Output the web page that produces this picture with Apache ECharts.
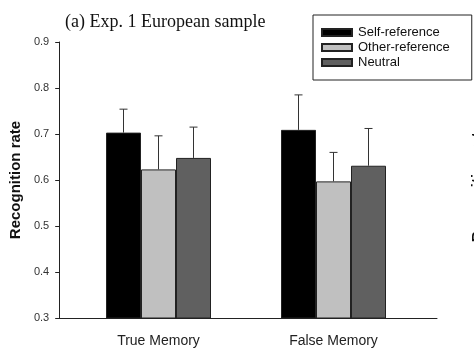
<!DOCTYPE html>
<html lang="en">
<head>
    <meta charset="UTF-8">
    <title>Exp. 1 European sample</title>
    <script src="https://cdn.jsdelivr.net/npm/echarts@6/dist/echarts.min.js"></script>
    <style>
        body{ margin: 0; background: #fff; }
    </style>
</head>
<body>
    <div id="main" style="width: 474px; height: 352px;"></div>

    <script>
        // data
        var categories = ['True Memory', 'False Memory'];
        var selfRef = [0.703, 0.709];
        var selfTop = [0.754, 0.785];
        var otherRef = [0.623, 0.597];
        var otherTop = [0.696, 0.660];
        var neutral = [0.648, 0.631];
        var neutralTop = [0.715, 0.712];
        var yTicks = [0.3, 0.4, 0.5, 0.6, 0.7, 0.8, 0.9];

        var chart = echarts.init(document.getElementById('main'));

        var barW = 35;

        // upper error bars, k = bar position inside the group
        function errSeries(name, vals, tops, k) {
            return {
                type: 'custom',
                name: name + ' err',
                xAxisIndex: 1,
                yAxisIndex: 1,
                z: 5,
                data: vals.map(function (v, i) { return [i, v, tops[i]]; }),
                renderItem: function (params, api) {
                    var p = api.coord([api.value(0), api.value(1)]);
                    var t = api.coord([api.value(0), api.value(2)]);
                    var x = p[0] + (k - 1) * barW;
                    return {
                        type: 'group',
                        children: [
                            { type: 'line', shape: { x1: x, y1: p[1], x2: x, y2: t[1] }, style: { stroke: '#333', lineWidth: 1 } },
                            { type: 'line', shape: { x1: x - 4, y1: t[1], x2: x + 4, y2: t[1] }, style: { stroke: '#333', lineWidth: 1 } }
                        ]
                    };
                }
            };
        }

        function bar(name, vals, color) {
            return {
                type: 'bar',
                name: name,
                xAxisIndex: 1,
                yAxisIndex: 1,
                barWidth: barW,
                barGap: 0,
                data: vals,
                itemStyle: { color: color, borderColor: '#222', borderWidth: 1 }
            };
        }

        var option = {
            animation: false,
            title: {
                text: '(a) Exp. 1 European sample',
                left: 60,
                top: 8,
                textStyle: { fontFamily: 'Liberation Serif', fontWeight: 'normal', fontSize: 18, color: '#111' }
            },
            legend: {
                data: ['Self-reference', 'Other-reference', 'Neutral'],
                orient: 'vertical',
                left: 313,
                top: 15,
                padding: [10, 22, 10, 8],
                itemGap: 0,
                itemWidth: 30,
                itemHeight: 7,
                icon: 'rect',
                borderColor: '#222',
                borderWidth: 1,
                textStyle: { fontFamily: 'Liberation Sans', fontSize: 13, color: '#111', lineHeight: 15, padding: [0, 0, 0, 1] }
            },
            graphic: [{
                type: 'text',
                x: 478,
                y: 183,
                rotation: Math.PI / 2,
                style: {
                    text: 'Recognition rate',
                    font: 'bold 15px "Liberation Sans"',
                    fill: '#111',
                    align: 'center',
                    verticalAlign: 'middle'
                }
            }],
            grid: [
                { left: 54, top: 42, right: 37, bottom: 34 },
                { left: 71, top: 42, right: 53, bottom: 34 }
            ],
            xAxis: [
                {
                    type: 'value', gridIndex: 0, min: 0, max: 1,
                    axisLine: { show: true, lineStyle: { color: '#222' } },
                    axisTick: { show: false }, axisLabel: { show: false }, splitLine: { show: false }
                },
                {
                    type: 'category', gridIndex: 1, data: categories,
                    axisLine: { show: false },
                    axisTick: { alignWithLabel: true, length: 4, lineStyle: { color: '#222' } },
                    axisLabel: { margin: 16, fontFamily: 'Liberation Sans', fontSize: 14, color: '#222' }
                }
            ],
            yAxis: [
                {
                    type: 'value', gridIndex: 0,
                    min: yTicks[0], max: yTicks[yTicks.length - 1], interval: 0.1,
                    name: 'Recognition rate',
                    nameLocation: 'middle',
                    nameGap: 36,
                    nameTextStyle: { fontFamily: 'Liberation Sans', fontWeight: 'bold', fontSize: 15, color: '#111' },
                    axisLine: { show: true, lineStyle: { color: '#222' } },
                    axisTick: { show: true, length: 4, lineStyle: { color: '#222' } },
                    axisLabel: { margin: 10, fontFamily: 'Liberation Sans', fontSize: 11, color: '#333', formatter: function (v) { return v.toFixed(1); } },
                    splitLine: { show: false }
                },
                {
                    type: 'value', gridIndex: 1,
                    min: yTicks[0], max: yTicks[yTicks.length - 1], interval: 0.1,
                    show: false
                }
            ],
            series: [
                bar('Self-reference', selfRef, '#000'),
                bar('Other-reference', otherRef, '#c0c0c0'),
                bar('Neutral', neutral, '#606060'),
                errSeries('Self-reference', selfRef, selfTop, 0),
                errSeries('Other-reference', otherRef, otherTop, 1),
                errSeries('Neutral', neutral, neutralTop, 2)
            ]
        };

        chart.setOption(option);
    </script>
</body>
</html>
